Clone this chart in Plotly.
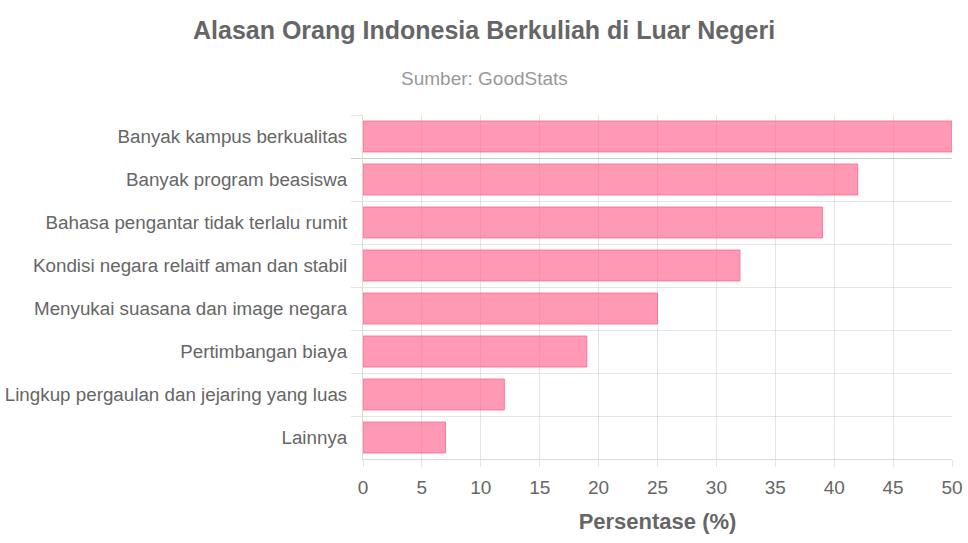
import plotly.graph_objects as go

categories = [
    "Banyak kampus berkualitas",
    "Banyak program beasiswa",
    "Bahasa pengantar tidak terlalu rumit",
    "Kondisi negara relaitf aman dan stabil",
    "Menyukai suasana dan image negara",
    "Pertimbangan biaya",
    "Lingkup pergaulan dan jejaring yang luas",
    "Lainnya",
]
values = [50, 42, 39, 32, 25, 19, 12, 7]
x_ticks = [0, 5, 10, 15, 20, 25, 30, 35, 40, 45, 50]

FONT = "Liberation Sans, Arial, Helvetica, sans-serif"
GRID = "rgba(0,0,0,0.1)"

W, H = 968, 543
L, R, T, B = 363, 16, 115, 84
plot_w = W - L - R
plot_h = H - T - B

n = len(categories)

fig = go.Figure(
    go.Bar(
        x=values,
        y=categories,
        orientation="h",
        marker=dict(color="rgba(255,99,140,0.65)",
                    line=dict(color="rgba(255,99,140,0.8)", width=1)),
        hoverinfo="x+y",
    )
)

fig.update_layout(
    width=W,
    height=H,
    margin=dict(l=L, r=R, t=T, b=B),
    paper_bgcolor="white",
    plot_bgcolor="white",
    bargap=0.28,
    showlegend=False,
    hovermode=False,
    font=dict(family=FONT, color="#666666", size=19),
    xaxis=dict(
        range=[0, 50],
        tickvals=x_ticks,
        ticktext=[str(v) for v in x_ticks],
        automargin=False,
        showgrid=True,
        gridcolor=GRID,
        gridwidth=1,
        zeroline=False,
        showline=True,
        linecolor="rgba(0,0,0,0.15)",
        linewidth=1,
        ticks="outside",
        ticklen=7,
        tickcolor=GRID,
        ticklabelstandoff=4,
        tickfont=dict(size=19, color="#666666"),
        title=dict(text="<b>Persentase (%)</b>",
                   font=dict(size=22, color="#666666"), standoff=16),
        fixedrange=True,
    ),
    yaxis=dict(
        type="category",
        categoryorder="array",
        categoryarray=categories,
        range=[n - 0.5, -0.5],
        automargin=False,
        tickson="boundaries",
        showgrid=True,
        gridcolor=GRID,
        gridwidth=1,
        zeroline=False,
        showline=True,
        linecolor="rgba(0,0,0,0.15)",
        linewidth=1,
        ticks="outside",
        ticklen=11,
        tickcolor=GRID,
        ticklabelstandoff=11,
        tickfont=dict(size=18.8, color="#666666"),
        fixedrange=True,
    ),
    annotations=[
        dict(text="<b>Alasan Orang Indonesia Berkuliah di Luar Negeri</b>",
             xref="paper", yref="paper", x=(484 - L) / plot_w, xanchor="center",
             y=1 + (T - 30) / plot_h, yanchor="middle", showarrow=False,
             font=dict(size=25, color="#666666", family=FONT)),
        dict(text="Sumber: GoodStats",
             xref="paper", yref="paper", x=(484 - L) / plot_w, xanchor="center",
             y=1 + (T - 78) / plot_h, yanchor="middle", showarrow=False,
             font=dict(size=19, color="#999999", family=FONT)),
    ],
)

fig.write_html(
    "out.html",
    config={"displayModeBar": False, "staticPlot": True},
    post_script="document.body.style.margin='0';document.body.style.overflow='hidden';",
)
